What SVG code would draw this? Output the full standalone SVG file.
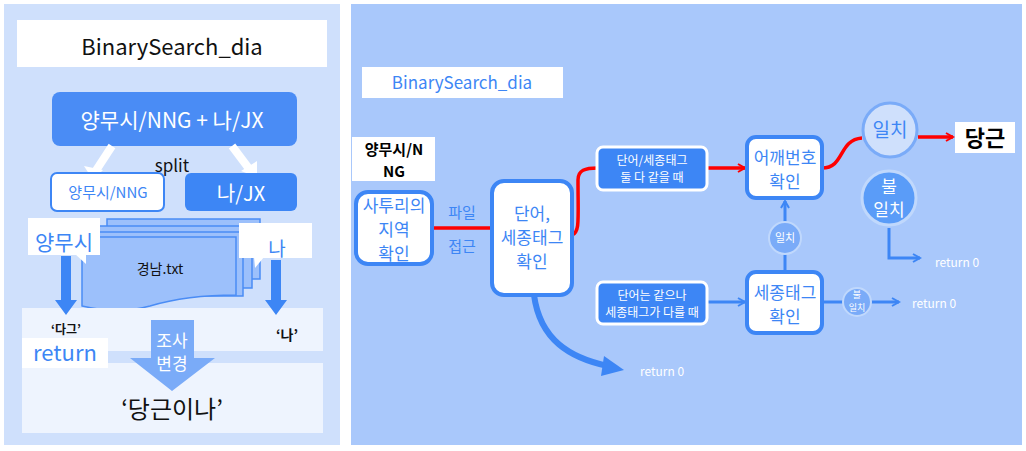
<svg xmlns="http://www.w3.org/2000/svg" width="1026" height="451" viewBox="0 0 1026 451">
<style>
text{font-family:"Noto Sans CJK KR","Noto Sans",sans-serif;text-anchor:middle}
.node{fill:#fff;stroke:#3d86f5;stroke-width:4}
.bt{fill:#3d86f5;font-size:17px}
.wt{fill:#fff}
.lbl{fill:#3d86f5;stroke:#fff;stroke-width:3}
.red{fill:none;stroke:#f00;stroke-width:3.5}
.blue{fill:none;stroke:#3d86f5;stroke-width:3}
</style>
<defs>
<marker id="ar" markerWidth="10" markerHeight="10" refX="8" refY="5" orient="auto" markerUnits="userSpaceOnUse"><path d="M1,1 L8,5 L1,9" fill="none" stroke="#f00" stroke-width="2"/></marker>
<marker id="ab" markerWidth="10" markerHeight="10" refX="8" refY="5" orient="auto" markerUnits="userSpaceOnUse"><path d="M1,1 L8,5 L1,9" fill="none" stroke="#3d86f5" stroke-width="2"/></marker>
</defs>
<rect width="1026" height="451" fill="#fff"/>
<!-- left panel -->
<g id="left">
<rect x="4" y="4" width="336" height="441" fill="#cfe0fc"/>
<rect x="17" y="20" width="310" height="47" fill="#fff"/>
<text x="172" y="55" font-size="22" fill="#111">BinarySearch_dia</text>
<rect x="52" y="92" width="245" height="54" rx="8" fill="#4a8cf5"/>
<text x="172" y="128" font-size="21" class="wt">양무시/NNG + 나/JX</text>
<path d="M112,146 L95,172" stroke="#fff" stroke-width="8" fill="none"/><path d="M84,166 L93,180 L103,170Z" fill="#fff"/>
<path d="M232,146 L250,170" stroke="#fff" stroke-width="8" fill="none"/><path d="M241,171 L257,177 L257,161Z" fill="#fff"/>
<text x="172" y="172" font-size="17" fill="#111">split</text>
<rect x="51" y="173" width="113" height="38" rx="6" fill="#fff" stroke="#3d86f5" stroke-width="2"/>
<text x="108" y="198" font-size="15" fill="#3d86f5">양무시/NNG</text>
<rect x="185" y="173" width="112" height="38" rx="6" fill="#3d86f5"/>
<text x="241" y="201" font-size="20" class="wt">나/JX</text>
<g fill="#9cc0fb" stroke="#4a8cf5" stroke-width="1.5">
<rect x="107" y="219" width="153" height="60"/>
<rect x="99" y="226" width="153" height="62"/>
<rect x="90" y="232" width="153" height="64"/>
<path d="M82,237 H236 V295 C200,295 170,300 150,306 C120,314 100,310 82,306Z"/>
</g>
<text x="160" y="274" font-size="14" fill="#111">경남.txt</text>
<rect x="28" y="218" width="72" height="37" fill="#fff"/><path d="M75,254 L86,264 L86,254Z" fill="#fff"/>
<text x="64" y="250" font-size="21" fill="#3d86f5">양무시</text>
<rect x="239" y="223" width="73" height="35" fill="#fff"/><path d="M254,257 L255,268 L264,257Z" fill="#fff"/>
<text x="277" y="256" font-size="19" fill="#3d86f5">나</text>
<rect x="22" y="308" width="301" height="43" fill="#eef4fe"/>
<rect x="22" y="363" width="301" height="70" fill="#eef4fe"/>
<path d="M61,256 H71 V300 H77 L66,315 L55,300 H61Z" fill="#3d86f5"/>
<path d="M271,260 H281 V300 H287 L276,315 L265,300 H271Z" fill="#3d86f5"/>
<text x="66" y="334" font-size="12" fill="#111" font-weight="bold">‘다그’</text>
<text x="287" y="340" font-size="14" fill="#111" font-weight="bold">‘나’</text>
<rect x="22" y="338" width="86" height="30" fill="#fff"/>
<text x="65" y="361" font-size="22" fill="#3d86f5">return</text>
<path d="M151,320 H194 V358 H215 L172,391 L130,358 H151Z" fill="#7aabf8"/>
<text x="172" y="347" font-size="17" class="wt">조사</text>
<text x="172" y="370" font-size="17" class="wt">변경</text>
<text x="172" y="418" font-size="24" fill="#111">‘당근이나’</text>
</g>
<!-- right panel -->
<rect x="351" y="4" width="671" height="441" fill="#a9c8fb"/>
<g id="title2"><rect x="362" y="67" width="201" height="31" fill="#fff"/><text x="462" y="89" font-size="17" fill="#3d86f5">BinarySearch_dia</text></g>
<g id="input"><rect x="352" y="137" width="83" height="44" fill="#fff"/>
<text x="394" y="155" font-size="15" font-weight="bold" fill="#000">양무시/N</text><text x="394" y="177" font-size="15" font-weight="bold" fill="#000">NG</text></g>
<g id="connectors">
<line x1="432" y1="228" x2="492" y2="228" class="red"/>
<path d="M572,235 C580,232 578,220 578,180 C578,170 585,168 598,168" class="red"/>
<line x1="707" y1="168" x2="745" y2="168" class="red" marker-end="url(#ar)"/>
<path d="M822,168 C845,168 838,140 862,138" class="red"/>
<line x1="918" y1="137" x2="953" y2="137" class="red" marker-end="url(#ar)"/>
<line x1="707" y1="302" x2="745" y2="302" class="blue" marker-end="url(#ab)"/>
<line x1="785" y1="272" x2="785" y2="201" class="blue" marker-end="url(#ab)"/>
<line x1="822" y1="302" x2="843" y2="302" class="blue" stroke-width="4"/>
<line x1="871" y1="302" x2="899" y2="302" class="blue" marker-end="url(#ab)"/>
<path d="M889,228 V258 H920" class="blue" marker-end="url(#ab)"/>
<path d="M534,295 C540,340 570,358 608,366" fill="none" stroke="#3d86f5" stroke-width="6"/>
<path d="M604,356 L624,370 L601,376Z" fill="#3d86f5"/>
</g>
<text x="462" y="218" font-size="15" fill="#3d86f5">파일</text>
<text x="462" y="252" font-size="15" fill="#3d86f5">접근</text>
<g id="n1"><rect x="356" y="192" width="76" height="72" rx="12" class="node"/>
<text x="394" y="212" class="bt" font-size="16">사투리의</text><text x="394" y="236" class="bt" font-size="16">지역</text><text x="394" y="260" class="bt" font-size="16">확인</text></g>
<g id="n2"><rect x="492" y="181" width="80" height="114" rx="12" class="node"/>
<text x="532" y="220" class="bt" font-size="19">단어,</text><text x="532" y="244" class="bt" font-size="19">세종태그</text><text x="532" y="268" class="bt" font-size="19">확인</text></g>
<g id="c1"><rect x="597" y="147" width="110" height="43" rx="6" class="lbl"/>
<text x="652" y="165" font-size="12" class="wt">단어/세종태그</text><text x="652" y="182" font-size="12" class="wt">둘 다 같을 때</text></g>
<g id="c2"><rect x="597" y="282" width="110" height="42" rx="6" class="lbl"/>
<text x="652" y="300" font-size="12" class="wt">단어는 같으나</text><text x="652" y="317" font-size="12" class="wt">세종태그가 다를 때</text></g>
<g id="n3"><rect x="747" y="137" width="75" height="61" rx="9" class="node"/>
<text x="785" y="164" class="bt">어깨번호</text><text x="785" y="188" class="bt">확인</text></g>
<g id="n4"><rect x="747" y="272" width="75" height="61" rx="9" class="node"/>
<text x="785" y="299" class="bt">세종태그</text><text x="785" y="323" class="bt">확인</text></g>
<g id="m1"><circle cx="785" cy="238" r="16" fill="#7aabf8" stroke="#c0d8fc" stroke-width="2"/><text x="785" y="242" font-size="11" class="wt">일치</text></g>
<g id="m2"><circle cx="857" cy="302" r="14" fill="#7aabf8" stroke="#c0d8fc" stroke-width="2"/><text x="857" y="298" font-size="9" class="wt">불</text><text x="857" y="311" font-size="9" class="wt">일치</text></g>
<g id="ok"><circle cx="890" cy="130" r="27" fill="#cfe0fc" stroke="#7aabf8" stroke-width="3"/><text x="890" y="137" font-size="19" fill="#3d86f5">일치</text></g>
<g id="ng"><circle cx="889" cy="198" r="27" fill="#5a9cf8" stroke="#c0d8fc" stroke-width="3"/><text x="889" y="193" font-size="17" class="wt">불</text><text x="889" y="216" font-size="17" class="wt">일치</text></g>
<g id="res"><rect x="955" y="122" width="60" height="31" fill="#fff"/><text x="985" y="146" font-size="22" font-weight="bold" fill="#000">당근</text></g>
<text x="957" y="267" font-size="12" class="wt">return 0</text>
<text x="934" y="308" font-size="12" class="wt">return 0</text>
<text x="662" y="376" font-size="12" class="wt">return 0</text>
</svg>
